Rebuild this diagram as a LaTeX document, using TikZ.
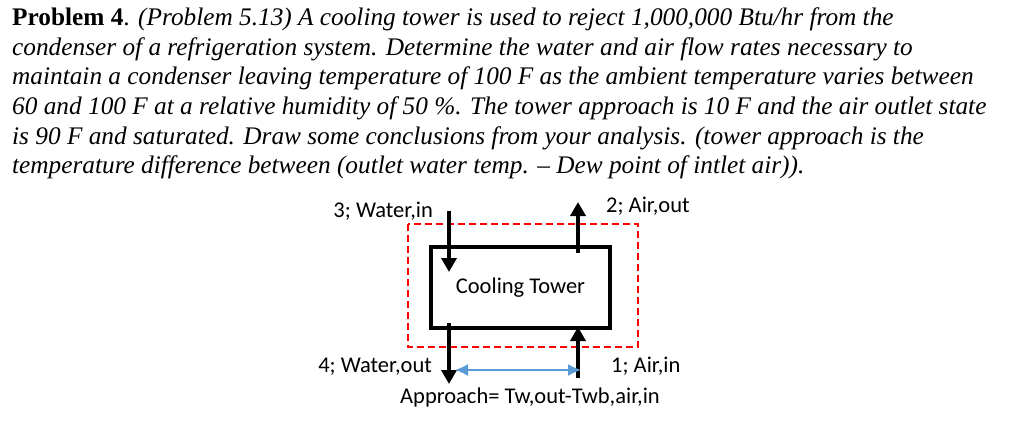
\documentclass[tikz,border=0pt]{standalone}
\usepackage{fontspec}
\setmainfont{Liberation Serif}
\newfontfamily\calib{Carlito}
\usetikzlibrary{arrows.meta}
\begin{document}
\begin{tikzpicture}[x=1pt,y=-1pt,
  flow/.style={line width=4.5pt,-{Triangle[length=14pt,width=15pt]}},
  lbl/.style={font=\calib\fontsize{22.5}{27}\selectfont,inner sep=0pt},
  para/.style={anchor=base west,inner sep=0pt,font=\fontsize{25.3}{30}\selectfont}]
\useasboundingbox (0,0) rectangle (1024,433);
\node[para] (l1) at (12,26) {\textbf{Problem 4}. \textit{(Problem 5.13) A cooling tower is used to reject 1,000,000 Btu/hr from the}};
\node[para] (l2) at (12,56) {\textit{condenser of a refrigeration system. Determine the water and air flow rates necessary to}};
\node[para] (l3) at (12,85) {\textit{maintain a condenser leaving temperature of 100 F as the ambient temperature varies between}};
\node[para] (l4) at (12,114) {\textit{60 and 100 F at a relative humidity of 50 \%. The tower approach is 10 F and the air outlet state}};
\node[para] (l5) at (12,144) {\textit{is 90 F and saturated. Draw some conclusions from your analysis. (tower approach is the}};
\node[para] (l6) at (12,173) {\textit{temperature difference between (outlet water temp. -- Dew point of intlet air)).}};
\draw[red,line width=1.6pt,dash pattern=on 7pt off 4pt] (408,224) rectangle (638,347);
\node[draw,line width=3.5pt,minimum width=179pt,minimum height=81pt,lbl] (ct) at (520.5,287.5) {Cooling Tower};
\coordinate (win) at (449,211);
\coordinate (wout) at (449,384);
\coordinate (aout) at (578,202);
\coordinate (ain) at (578,378);
\draw[flow] (win) -- (449,272);
\draw[flow] (449,323) -- (wout);
\draw[flow] (578,253) -- (aout);
\draw[flow] (ain) -- (578,327);
\coordinate (b1) at (455,370);
\coordinate (b2) at (581,370);
\draw[{Latex[length=13pt,width=12pt]}-{Latex[length=13pt,width=12pt]},line width=1.4pt,color={rgb,255:red,91;green,155;blue,213}] (b1) -- (b2);
\node[lbl,anchor=east] (t3) at (433,211) {3; Water,in};
\node[lbl,anchor=west] (t2) at (606,206) {2; Air,out};
\node[lbl,anchor=east] (t4) at (432,367) {4; Water,out};
\node[lbl,anchor=west] (t1) at (611,366) {1; Air,in};
\node[lbl] (ap) at (530,397) {Approach= Tw,out-Twb,air,in};
\end{tikzpicture}
\end{document}
